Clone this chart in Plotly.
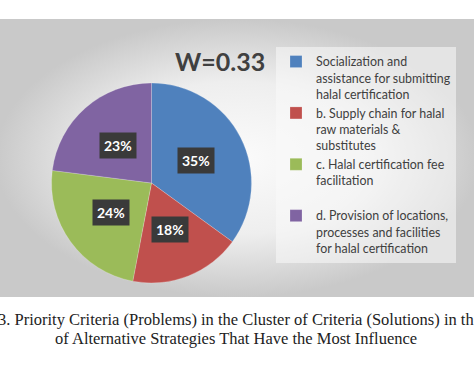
import math
import plotly.graph_objects as go

labels = [
    "Socialization and<br>assistance for submitting<br>halal certification",
    "b. Supply chain for halal<br>raw materials &<br>substitutes",
    "c. Halal certification fee<br>facilitation<br> ",
    "d. Provision of locations,<br>processes and facilities<br>for halal certification",
]
values = [35, 18, 24, 23]
colors = ["#4F81BD", "#C0504D", "#9BBB59", "#8064A2"]
title_text = "W=0.33"
caption_1 = "3. Priority Criteria (Problems) in the Cluster of Criteria (Solutions) in th"
caption_2 = "of Alternative Strategies That Have the Most Influence"

W, H = 474, 374
# pie placement in pixels
cx, cy, r = 151.5, 183.0, 100.0

fig = go.Figure()

# gradient background panel
fig.add_trace(go.Scatter(
    x=[-0.01, 1.01, 1.01, -0.01, -0.01],
    y=[1 - 297 / H, 1 - 297 / H, 1 - 19 / H, 1 - 19 / H, 1 - 297 / H],
    mode="lines", line=dict(width=0), fill="toself",
    fillgradient=dict(type="radial", colorscale=[[0, "#fbfbfb"], [0.55, "#eeeeee"], [1, "#c9c9c9"]]),
    hoverinfo="skip", showlegend=False,
))

fig.add_trace(go.Pie(
    labels=labels, values=values, sort=False, direction="clockwise", rotation=0,
    marker=dict(colors=colors, line=dict(color="rgba(255,255,255,0.4)", width=0.5)),
    textinfo="none",
    domain=dict(x=[(cx - r) / W, (cx + r) / W], y=[1 - (cy + r) / H, 1 - (cy - r) / H]),
    hoverinfo="label+percent",
))

annotations = []
total = sum(values)
cum = 0.0
for v in values:
    mid = (cum + v / 2) / total * 2 * math.pi
    cum += v
    px = cx + 0.5 * r * math.sin(mid)
    py = cy - 0.5 * r * math.cos(mid)
    annotations.append(dict(
        x=px / W, y=1 - py / H, xref="paper", yref="paper",
        xanchor="center", yanchor="middle",
        text="<b>%d%%</b>" % round(v / total * 100), showarrow=False,
        font=dict(family="Lato", size=14, color="white"),
        bgcolor="#3a3a3a", borderpad=4,
    ))

annotations.append(dict(
    x=219.5 / W, y=1 - 61 / H, xref="paper", yref="paper", text="<b>%s</b>" % title_text,
    xanchor="center", yanchor="middle",
    showarrow=False, font=dict(family="Lato", size=25, color="#404040"),
))
annotations.append(dict(
    x=-4 / W, y=1 - 319 / H, xref="paper", yref="paper", text=caption_1,
    showarrow=False, xanchor="left", yanchor="middle",
    font=dict(family="Liberation Serif", size=16.5, color="#222222"),
))
annotations.append(dict(
    x=236 / W, y=1 - 338 / H, xref="paper", yref="paper", text=caption_2,
    showarrow=False, xanchor="center", yanchor="middle",
    font=dict(family="Liberation Serif", size=16.5, color="#222222"),
))

fig.update_layout(
    width=W, height=H, margin=dict(l=0, r=0, t=0, b=0),
    paper_bgcolor="white", plot_bgcolor="rgba(0,0,0,0)",
    xaxis=dict(range=[0, 1], visible=False, fixedrange=True, domain=[0, 1]),
    yaxis=dict(range=[0, 1], visible=False, fixedrange=True, domain=[0, 1]),
    showlegend=True,
    legend=dict(
        x=276 / W, y=1 - 47 / H, xanchor="left", yanchor="top",
        bgcolor="rgba(250,250,250,0.55)", valign="top",
        font=dict(family="Lato", size=12.4, color="#404040"),
        tracegroupgap=0, itemclick=False,
    ),
    annotations=annotations,
)

fig.write_html(
    "out.html",
    config={"displayModeBar": False},
    post_script="document.body.style.margin='0';document.body.style.overflow='hidden';",
)
